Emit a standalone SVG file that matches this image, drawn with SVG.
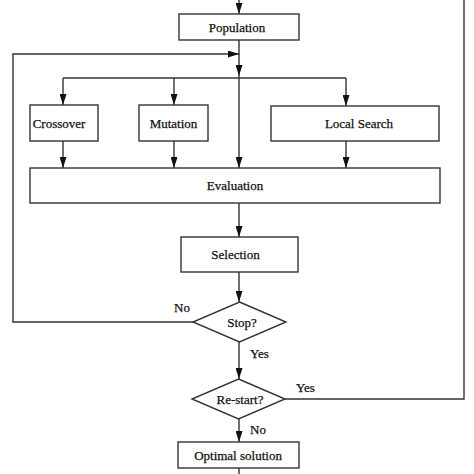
<svg xmlns="http://www.w3.org/2000/svg" width="474" height="474" viewBox="0 0 474 474">
<defs>
<marker id="ah" markerUnits="userSpaceOnUse" markerWidth="11" markerHeight="7" refX="11" refY="3.5" orient="auto">
<path d="M0,0 L11,3.5 L0,7 z" fill="#111"/>
</marker>
</defs>
<style>
.box{fill:#fff;stroke:#333;stroke-width:1.4}
.ln{fill:none;stroke:#333;stroke-width:1.4}
.ar{fill:none;stroke:#333;stroke-width:1.4;marker-end:url(#ah)}
text{font-family:'Liberation Serif','DejaVu Serif',serif;font-size:13px;fill:#111;stroke:#111;stroke-width:0.25;text-anchor:middle}
.lbl{text-anchor:start}
</style>
<rect width="474" height="474" fill="#fff"/>
<g id="connectors">
<path class="ar" d="M239,0 V14"/>
<path class="ar" d="M239,40 V76"/>
<path class="ln" d="M63,78 H346"/>
<path class="ar" d="M63,78 V105"/>
<path class="ar" d="M174,78 V105"/>
<path class="ar" d="M346,78 V106"/>
<path class="ar" d="M239,76 V168"/>
<path class="ar" d="M63,141 V168"/>
<path class="ar" d="M174,141 V168"/>
<path class="ar" d="M346,141 V168"/>
<path class="ar" d="M239,203 V237"/>
<path class="ar" d="M239,272 V302"/>
<path class="ar" d="M193,322 H13 V54 H239"/>
<path class="ar" d="M239,342 V379"/>
<path class="ln" d="M285,399 H464 V0"/>
<path class="ar" d="M239,419 V442"/>
<path class="ln" d="M239,468 V474"/>
<text class="lbl" x="174" y="312" font-family="Liberation Serif, serif">No</text>
<text class="lbl" x="250" y="358" font-family="Liberation Serif, serif">Yes</text>
<text class="lbl" x="296" y="392" font-family="Liberation Serif, serif">Yes</text>
<text class="lbl" x="250" y="434" font-family="Liberation Serif, serif">No</text>
</g>
<g id="population">
<rect class="box" x="179" y="14" width="120" height="26"/>
<text x="237" y="31.5" font-family="Liberation Serif, serif">Population</text>
</g>
<g id="crossover">
<rect class="box" x="30" y="105" width="68" height="36"/>
<text x="59" y="127.5" font-family="Liberation Serif, serif">Crossover</text>
</g>
<g id="mutation">
<rect class="box" x="139" y="105" width="69" height="36"/>
<text x="173.5" y="127.5" font-family="Liberation Serif, serif">Mutation</text>
</g>
<g id="local-search">
<rect class="box" x="271" y="106" width="168" height="35"/>
<text x="359" y="128" font-family="Liberation Serif, serif">Local Search</text>
</g>
<g id="evaluation">
<rect class="box" x="30" y="168" width="410" height="35"/>
<text x="235" y="189.5" font-family="Liberation Serif, serif">Evaluation</text>
</g>
<g id="selection">
<rect class="box" x="181" y="237" width="117" height="35"/>
<text x="235.5" y="258.5" font-family="Liberation Serif, serif">Selection</text>
</g>
<g id="stop">
<path class="box" d="M239.5,302 L286,322 L239.5,342 L193,322 z"/>
<text x="242" y="327" font-family="Liberation Serif, serif">Stop?</text>
</g>
<g id="restart">
<path class="box" d="M238.5,379 L285,399 L238.5,419 L192,399 z"/>
<text x="240" y="403.5" font-family="Liberation Serif, serif">Re-start?</text>
</g>
<g id="optimal">
<rect class="box" x="178" y="442" width="121" height="26"/>
<text x="238" y="459.5" font-family="Liberation Serif, serif">Optimal solution</text>
</g>
</svg>
